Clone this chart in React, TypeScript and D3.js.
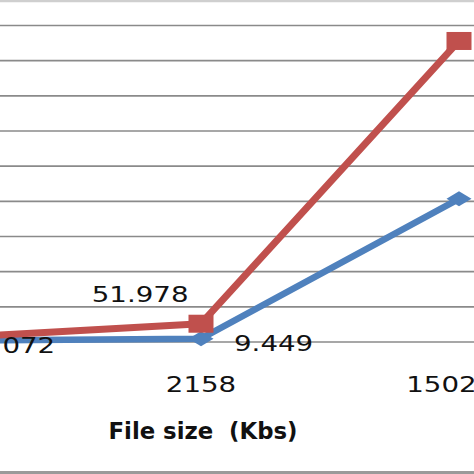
import React from "react";
import * as d3 from "d3";

// file sizes (Kbs) on the category axis
const categories = ["1024", "2158", "150240"];
// series values
const blueValues = [4.072, 9.449, 407];
const redValues = [11, 51.978, 856];
// data labels shown next to the points (null = not visible)
const blueLabels = ["4.072", "9.449", null];
const redLabels = [null, "51.978", null];
const gridValues = d3.range(0, 1000, 100);

const W = 474;
const H = 474;
const BLUE = "#4F81BD";
const RED = "#C0504D";
const SX = 1.35; // the picture is stretched sideways

export default function App() {
  const x = d3.scalePoint<string>().domain(categories).range([-57, 459]);
  const y = d3.scaleLinear().domain([0, 900]).range([342, 25.5]);

  const line = d3
    .line<number>()
    .x((_, i) => x(categories[i]) as number)
    .y((d) => y(d));

  const font = "'DejaVu Sans', Verdana, sans-serif";

  return (
    <>
      <style>{`body{margin:0}`}</style>
      <svg width={W} height={H} style={{ display: "block", background: "#fff" }}>
        {/* chart border */}
        <line x1={0} x2={W} y1={1} y2={1} stroke="#cfcfcf" strokeWidth={2.5} />
        <line x1={0} x2={W} y1={472.5} y2={472.5} stroke="#9a9a9a" strokeWidth={3} />

        {gridValues.map((v) => (
          <line key={v} x1={0} x2={W} y1={y(v)} y2={y(v)} stroke="#8a8a8a" strokeWidth={1.6} />
        ))}

        <path d={line(blueValues) || ""} fill="none" stroke={BLUE} strokeWidth={6.5} strokeLinejoin="round" />
        {blueValues.map((v, i) => {
          const cx = x(categories[i]) as number;
          const cy = y(v);
          return (
            <path
              key={i}
              d={`M${cx - 12.5},${cy} L${cx},${cy - 7.5} L${cx + 12.5},${cy} L${cx},${cy + 7.5} Z`}
              fill={BLUE}
            />
          );
        })}

        <path d={line(redValues) || ""} fill="none" stroke={RED} strokeWidth={7} strokeLinejoin="round" />
        {redValues.map((v, i) => {
          const cx = x(categories[i]) as number;
          const cy = y(v);
          return <rect key={i} x={cx - 12.5} y={cy - 9} width={25} height={18} fill={RED} />;
        })}

        {/* data labels */}
        {blueLabels.map((t, i) =>
          t ? (
            <text
              key={"b" + i}
              transform={`translate(${(x(categories[i]) as number) + 33},${y(blueValues[i]) + 12}) scale(${SX},1)`}
              fontFamily={font}
              fontSize={20.5}
              fill="#111"
            >
              {t}
            </text>
          ) : null
        )}
        {redLabels.map((t, i) =>
          t ? (
            <text
              key={"r" + i}
              transform={`translate(${(x(categories[i]) as number) - 12.5},${y(redValues[i]) - 22}) scale(${SX},1)`}
              fontFamily={font}
              fontSize={20.5}
              textAnchor="end"
              fill="#111"
            >
              {t}
            </text>
          ) : null
        )}

        {/* category labels */}
        {categories.map((c) => (
          <text
            key={c}
            transform={`translate(${x(c)},391.5) scale(${SX},1)`}
            fontFamily={font}
            fontSize={20.5}
            textAnchor="middle"
            fill="#111"
          >
            {c}
          </text>
        ))}

        <text
          x={203}
          y={439}
          fontFamily={font}
          fontWeight="bold"
          fontSize={22.4}
          textAnchor="middle"
          textLength={189}
          lengthAdjust="spacingAndGlyphs"
          fill="#111"
          style={{ whiteSpace: "pre" }}
        >
          {"File size  (Kbs)"}
        </text>
      </svg>
    </>
  );
}
